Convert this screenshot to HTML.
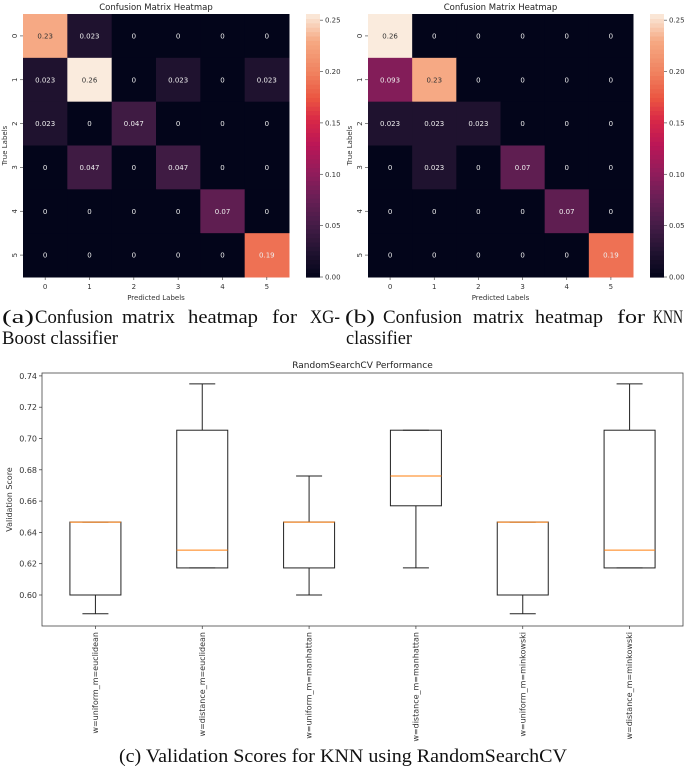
<!DOCTYPE html>
<html><head><meta charset="utf-8">
<style>
html,body{margin:0;padding:0;background:#fff;}
svg{display:block;font-family:"DejaVu Sans","Liberation Sans",sans-serif;}
.cap{font-family:"Liberation Serif",serif;font-size:18.5px;fill:#111;}
</style></head>
<body>
<svg id="fig" width="685" height="766" viewBox="0 0 685 766" xmlns="http://www.w3.org/2000/svg">
<g id="hmA"></g>
<g id="hmB"></g>
<g id="box"></g>
<text class="cap" y="323"><tspan x="2" textLength="32" lengthAdjust="spacingAndGlyphs">(a)</tspan><tspan x="35" textLength="78" lengthAdjust="spacingAndGlyphs">Confusion</tspan><tspan x="122" textLength="53" lengthAdjust="spacingAndGlyphs">matrix</tspan><tspan x="188" textLength="70" lengthAdjust="spacingAndGlyphs">heatmap</tspan><tspan x="272" textLength="25" lengthAdjust="spacingAndGlyphs">for</tspan><tspan x="310" textLength="30" lengthAdjust="spacingAndGlyphs">XG-</tspan></text>
<text class="cap" x="2" y="344" textLength="116" lengthAdjust="spacingAndGlyphs">Boost classifier</text>
<text class="cap" y="323"><tspan x="345" textLength="30" lengthAdjust="spacingAndGlyphs">(b)</tspan><tspan x="383" textLength="79" lengthAdjust="spacingAndGlyphs">Confusion</tspan><tspan x="473" textLength="51" lengthAdjust="spacingAndGlyphs">matrix</tspan><tspan x="535" textLength="68" lengthAdjust="spacingAndGlyphs">heatmap</tspan><tspan x="617" textLength="28" lengthAdjust="spacingAndGlyphs">for</tspan><tspan x="653" textLength="30" lengthAdjust="spacingAndGlyphs">KNN</tspan></text>
<text class="cap" x="346" y="344" textLength="66" lengthAdjust="spacingAndGlyphs">classifier</text>
<text class="cap" x="119" y="762" textLength="448" lengthAdjust="spacingAndGlyphs">(c) Validation Scores for KNN using RandomSearchCV</text>
</svg>
<script>
// ---- heatmap data ----
const hmLabels = ["0","1","2","3","4","5"];
const matrixA = [
 [0.23,0.023,0,0,0,0],
 [0.023,0.26,0,0.023,0,0.023],
 [0.023,0,0.047,0,0,0],
 [0,0.047,0,0.047,0,0],
 [0,0,0,0,0.07,0],
 [0,0,0,0,0,0.19]];
const matrixB = [
 [0.26,0,0,0,0,0],
 [0.093,0.23,0,0,0,0],
 [0.023,0.023,0.023,0,0,0],
 [0,0.023,0,0.07,0,0],
 [0,0,0,0,0.07,0],
 [0,0,0,0,0,0.19]];
const cbTicks = [0.00,0.05,0.10,0.15,0.20,0.25];
const vmax = 0.256;
// ---- boxplot data ----
const boxCats = ["w=uniform_m=euclidean","w=distance_m=euclidean","w=uniform_m=manhattan","w=distance_m=manhattan","w=uniform_m=minkowski","w=distance_m=minkowski"];
const boxLow  = [0.588,0.6173,0.600,0.6173,0.588,0.6173];
const boxQ1   = [0.600,0.6173,0.6173,0.657,0.600,0.6173];
const boxMed  = [0.6466,0.6287,0.6466,0.676,0.6466,0.6287];
const boxQ3   = [0.6466,0.7053,0.6466,0.7053,0.6466,0.7053];
const boxHigh = [0.6466,0.7349,0.676,0.7053,0.6466,0.7349];
const yTicks = [0.60,0.62,0.64,0.66,0.68,0.70,0.72,0.74];

const NS="http://www.w3.org/2000/svg";
function mk(parent,tag,attrs,text){const e=document.createElementNS(NS,tag);for(const k in attrs)e.setAttribute(k,attrs[k]);if(text!==undefined)e.textContent=text;parent.appendChild(e);return e;}
const stops=[[0,[3,5,26]],[0.1,[34,19,49]],[0.2,[69,28,71]],[0.3,[105,31,85]],[0.4,[146,28,91]],[0.5,[185,22,87]],[0.6,[217,40,71]],[0.68,[235,85,65]],[0.78,[240,130,95]],[0.9,[246,170,132]],[1,[250,235,221]]];
function rocket(t){t=Math.max(0,Math.min(1,t));for(let i=1;i<stops.length;i++){if(t<=stops[i][0]){const a=stops[i-1],b=stops[i];const f=(t-a[0])/(b[0]-a[0]);const c=a[1].map((v,j)=>Math.round(v+(b[1][j]-v)*f));return `rgb(${c})`;}}return "rgb(250,235,221)";}

function heatmap(g,M,x0,y0,w,h,cbx){
  const cs=w/6, ch=h/6;
  const sx=i=>x0+i*cs, sy=j=>y0+j*ch;
  mk(g,"text",{x:x0+w/2,y:y0-4,"text-anchor":"middle","font-size":"8.5",fill:"#222"},"Confusion Matrix Heatmap");
  M.forEach((row,r)=>row.forEach((v,c)=>{
    const rc=mk(g,"rect",{x:sx(c),y:sy(r),width:cs+0.5,height:ch+0.5,fill:rocket(v/vmax)});
    
    
    const t=mk(g,"text",{x:sx(c)+cs/2,y:sy(r)+ch/2+2.5,"text-anchor":"middle","font-size":"7",fill:(v/vmax>0.8?"#333":"#eee")},String(v));
    
    
  }));
  hmLabels.forEach((l,i)=>{
    mk(g,"line",{x1:sx(i)+cs/2,x2:sx(i)+cs/2,y1:y0+h,y2:y0+h+3,stroke:"#333","stroke-width":0.6});
    mk(g,"text",{x:sx(i)+cs/2,y:y0+h+12,"text-anchor":"middle","font-size":"7",fill:"#333"},l);
    mk(g,"line",{x1:x0-3,x2:x0,y1:sy(i)+ch/2,y2:sy(i)+ch/2,stroke:"#333","stroke-width":0.6});
    mk(g,"text",{x:x0-8,y:sy(i)+ch/2,"text-anchor":"middle","font-size":"7",fill:"#333",transform:`rotate(-90 ${x0-8} ${sy(i)+ch/2})`,"dominant-baseline":"middle"},l);
  });
  const xl=mk(g,"text",{x:x0+w/2,y:y0+h+23,"text-anchor":"middle","font-size":"7",fill:"#333"},"Predicted Labels");
  
  
  const yl=mk(g,"text",{x:x0-16,y:y0+h/2,"text-anchor":"middle","font-size":"7",fill:"#333",transform:`rotate(-90 ${x0-16} ${y0+h/2})`},"True Labels");
  
  
  const cw=14, n=60;
  for(let k=0;k<n;k++){mk(g,"rect",{x:cbx,y:y0+h-(k+1)*h/n,width:cw,height:h/n+0.6,fill:rocket((k+0.5)/n)});}
  cbTicks.forEach(t=>{const y=y0+h-t/vmax*h;
    mk(g,"line",{x1:cbx+cw,x2:cbx+cw+3,y1:y,y2:y,stroke:"#333","stroke-width":0.6});
    mk(g,"text",{x:cbx+cw+5,y:y+2.5,"font-size":"7",fill:"#333"},t.toFixed(2));});
}
const gA=document.getElementById("hmA"), gB=document.getElementById("hmB");
heatmap(gA,matrixA,23,14,266,263,306);
heatmap(gB,matrixB,368,14,265,263,650);

// boxplot
const gb=document.getElementById("box");
const L=42,R=683,T=373,B=626;
const yv=v=>595-(v-0.60)/0.02*31.3;
const xc=i=>L+(R-L)*(i+0.5)/6;
mk(gb,"text",{x:(L+R)/2,y:368,"text-anchor":"middle","font-size":"9",fill:"#222"},"RandomSearchCV Performance");
mk(gb,"rect",{x:L,y:T,width:R-L,height:B-T,fill:"none",stroke:"#444","stroke-width":0.8});
yTicks.forEach(t=>{const y=yv(t);mk(gb,"line",{x1:L-3,x2:L,y1:y,y2:y,stroke:"#333","stroke-width":0.7});
  mk(gb,"text",{x:L-5,y:y+3,"text-anchor":"end","font-size":"8",fill:"#333"},t.toFixed(2));});
const yt=mk(gb,"text",{x:12,y:(T+B)/2,"text-anchor":"middle","font-size":"8",fill:"#333",transform:`rotate(-90 12 ${(T+B)/2})`},"Validation Score");


const bw=51;
boxCats.forEach((c,i)=>{
  const x=xc(i);
  const g=mk(gb,"g",{});
  
  
  const st={stroke:"#222","stroke-width":1,fill:"none"};
  mk(g,"line",Object.assign({x1:x,x2:x,y1:yv(boxQ1[i]),y2:yv(boxLow[i])},st));
  mk(g,"line",Object.assign({x1:x,x2:x,y1:yv(boxQ3[i]),y2:yv(boxHigh[i])},st));
  mk(g,"line",Object.assign({x1:x-13,x2:x+13,y1:yv(boxLow[i]),y2:yv(boxLow[i])},st));
  mk(g,"line",Object.assign({x1:x-13,x2:x+13,y1:yv(boxHigh[i]),y2:yv(boxHigh[i])},st));
  mk(g,"rect",Object.assign({x:x-bw/2,y:yv(boxQ3[i]),width:bw,height:Math.max(0.1,yv(boxQ1[i])-yv(boxQ3[i]))},st));
  mk(g,"line",{x1:x-bw/2,x2:x+bw/2,y1:yv(boxMed[i]),y2:yv(boxMed[i]),stroke:"#ff7f0e","stroke-width":1});
  mk(gb,"line",{x1:x,x2:x,y1:B,y2:B+3,stroke:"#333","stroke-width":0.7});
  const lt=mk(gb,"text",{x:x,y:B+6,"text-anchor":"end","font-size":"8",fill:"#333","dominant-baseline":"middle",transform:`rotate(-90 ${x} ${B+6})`},c);
  
  
});
</script>
</body></html>
